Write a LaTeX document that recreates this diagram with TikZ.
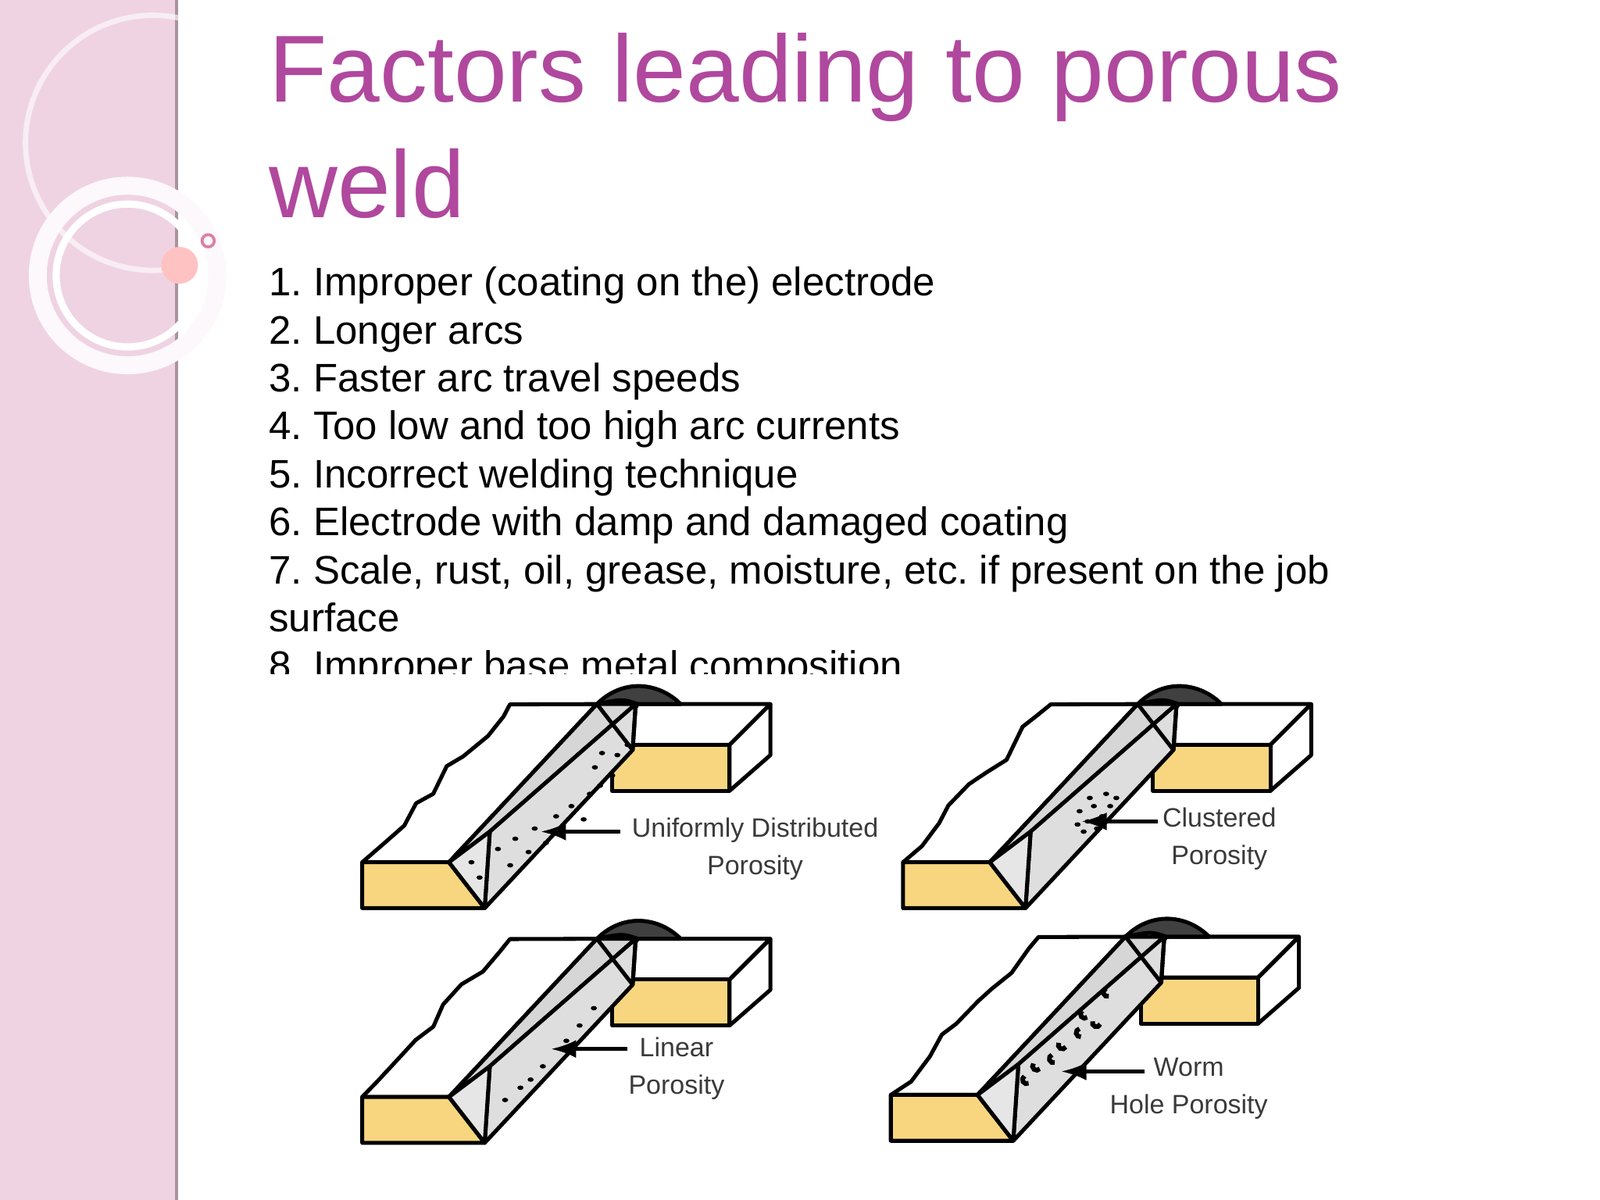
\documentclass[tikz,border=0pt]{standalone}
\usepackage{fontspec}
\setmainfont{Liberation Sans}
\usetikzlibrary{decorations.pathmorphing,arrows.meta}
\definecolor{strip}{HTML}{EFD3E3}
\definecolor{titlec}{HTML}{B0489E}
\definecolor{plate}{HTML}{F8D680}
\definecolor{bead}{HTML}{D6D6D6}
\definecolor{lbl}{HTML}{3A3A3A}
\frenchspacing
\tikzset{
  edge/.style={draw=black,line width=1.1pt,line join=round},
  wavy/.style={decorate,decoration={random steps,segment length=7,amplitude=1.6}},
  lab/.style={text=lbl,font=\fontsize{7.4}{10.5}\selectfont,align=center},
  arr/.style={-{Latex[length=7,width=5]},line width=1pt},
  pore/.style={fill=black,draw=black,line width=0.6pt}
}
\newcommand{\weldpic}[2]{%
\begin{scope}[shift={(#1,#2)},yscale=-1]
  \filldraw[edge,fill=white] (245,160) -- (270,200) -- (400,200) -- (360,160) -- cycle;
  \filldraw[edge,fill=white] (360,160) -- (400,200) -- (400,150) -- (360,115) -- cycle;
  \filldraw[edge,fill=plate] (245,115) -- (360,115) -- (360,160) -- (245,160) -- cycle;
  \filldraw[edge,fill=black!75] (230,200) .. controls (255,225) and (290,222) .. (312,200) -- (270,200) .. controls (255,205) .. (230,200);
  \filldraw[edge,fill=white] (0,45) decorate[wavy]{-- (145,200)} -- (230,200) -- (85,45) -- cycle;
  \filldraw[edge,fill=bead] (85,45) -- (230,200) -- (268,200) -- (125,75) -- cycle;
  \filldraw[edge,fill=bead!80] (125,75) -- (268,200) -- (265,155) -- (120,0) -- cycle;
  \draw[edge] (230,200) -- (265,155) -- (268,200);
  \filldraw[edge,fill=plate] (0,0) -- (0,45) -- (85,45) -- (120,0) -- cycle;
  \filldraw[edge,fill=bead!60] (85,45) -- (125,75) -- (120,0) -- cycle;
\end{scope}}
\begin{document}
\begin{tikzpicture}[x=0.01cm,y=-0.01cm]
\useasboundingbox (0,0) rectangle (1568,1176);
\fill[white] (0,0) rectangle (1568,1176);
\fill[strip] (0,0) rectangle (173,1176);
\draw[strip!70!black,line width=0.8pt] (173,0) -- (173,1176);
\begin{scope}
\clip (0,0) rectangle (300,1176);
\draw[white,opacity=0.6,line width=1.5pt] (150,140) circle (125);
\draw[white!85!strip,line width=5pt] (125,270) circle (88);
\draw[white,line width=2pt] (125,270) circle (70);
\end{scope}
\fill[pink!80!red!60] (176,260) circle (18);
\draw[strip!60!purple,line width=0.8pt] (204,236) circle (6);
\node[anchor=base west,text=titlec,font=\fontsize{26.5}{30}\selectfont,inner sep=0] (t1) at (263,100) {Factors leading to porous};
\node[anchor=base west,text=titlec,font=\fontsize{26.5}{30}\selectfont,inner sep=0] (t2) at (263,213) {weld};
\begin{scope}
\clip (200,240) rectangle (1400,660);
\foreach \i/\t in {0/{1. Improper (coating on the) electrode},1/{2. Longer arcs},2/{3. Faster arc travel speeds},3/{4. Too low and too high arc currents},4/{5. Incorrect welding technique},5/{6. Electrode with damp and damaged coating},6/{7. Scale, rust, oil, grease, moisture, etc. if present on the job},7/{surface},8/{8. Improper base metal composition}}
  \node[anchor=base west,inner sep=0,font=\fontsize{11.1}{12}\selectfont] (l\i) at (263,{290+47*\i}) {\t};
\end{scope}
\weldpic{355}{890}
\weldpic{885}{890}
\weldpic{355}{1120}
\weldpic{873}{1118}
\foreach \p in {(462,845),(470,860),(488,832),(500,848),(505,822),(518,835),(524,812),(535,826),(545,800),(552,815),(560,790),(572,803),(578,778),(588,770),(583,752),(600,760),(605,740),(590,738),(615,730)}
  \fill \p ellipse (3 and 2.2);
\node[lab] (uL) at (740,832) {Uniformly Distributed\\Porosity};
\coordinate (uA) at (608,815);
\draw[arr] (uA) -- (530,815);
\foreach \p in {(1058,795),(1066,805),(1072,790),(1080,800),(1062,815),(1075,812),(1088,790),(1094,782),(1084,778),(1056,808),(1068,782)}
  \fill \p ellipse (3 and 2.2);
\node[lab] (cL) at (1195,822) {Clustered\\Porosity};
\coordinate (cA) at (1135,805);
\draw[arr] (cA) -- (1060,805);
\foreach \p in {(495,1078),(510,1066),(520,1058),(532,1045),(555,1020),(568,1005),(582,988)}
  \fill \p ellipse (3 and 2.2);
\node[lab] (lL) at (663,1047) {Linear\\Porosity};
\coordinate (lA) at (615,1028);
\draw[arr] (lA) -- (540,1028);
\foreach \p/\a in {(1010,1065)/60,(1022,1050)/40,(1035,1045)/70,(1048,1028)/30,(1060,1020)/80,(1068,1000)/50,(1082,1005)/20,(1088,980)/70}
  \draw[line width=1.3pt] \p ++(\a:-4) arc[start angle=\a,end angle=\a+180,radius=4];
\node[lab] (wL) at (1165,1067) {Worm\\Hole Porosity};
\coordinate (wA) at (1122,1050);
\draw[arr] (wA) -- (1040,1050);
\end{tikzpicture}
\end{document}
